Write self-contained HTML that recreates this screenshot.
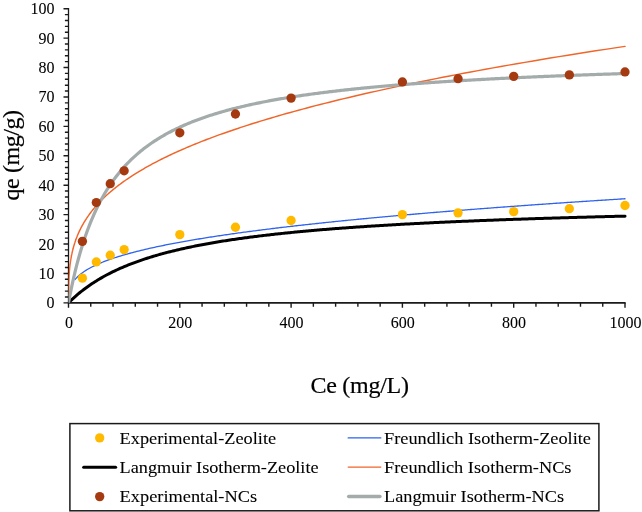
<!DOCTYPE html>
<html><head><meta charset="utf-8"><style>
html,body{margin:0;padding:0;background:#fff;width:642px;height:512px;overflow:hidden}
svg{display:block}
text{stroke:#000;stroke-width:0.2px}
.lg text,.tk text{stroke-width:0.08px}
</style></head><body>
<svg width="642" height="512" viewBox="0 0 642 512">
<rect width="642" height="512" fill="#fff"/>
<path d="M63.50,302.85H68.50M64.90,296.97H68.50M64.90,291.08H68.50M64.90,285.20H68.50M64.90,279.32H68.50M63.50,273.44H68.50M64.90,267.55H68.50M64.90,261.67H68.50M64.90,255.79H68.50M64.90,249.90H68.50M63.50,244.02H68.50M64.90,238.14H68.50M64.90,232.25H68.50M64.90,226.37H68.50M64.90,220.49H68.50M63.50,214.61H68.50M64.90,208.72H68.50M64.90,202.84H68.50M64.90,196.96H68.50M64.90,191.07H68.50M63.50,185.19H68.50M64.90,179.31H68.50M64.90,173.42H68.50M64.90,167.54H68.50M64.90,161.66H68.50M63.50,155.78H68.50M64.90,149.89H68.50M64.90,144.01H68.50M64.90,138.13H68.50M64.90,132.24H68.50M63.50,126.36H68.50M64.90,120.48H68.50M64.90,114.59H68.50M64.90,108.71H68.50M64.90,102.83H68.50M63.50,96.94H68.50M64.90,91.06H68.50M64.90,85.18H68.50M64.90,79.30H68.50M64.90,73.41H68.50M63.50,67.53H68.50M64.90,61.65H68.50M64.90,55.76H68.50M64.90,49.88H68.50M64.90,44.00H68.50M63.50,38.12H68.50M64.90,32.23H68.50M64.90,26.35H68.50M64.90,20.47H68.50M64.90,14.58H68.50M63.50,8.70H68.50M68.50,302.85V307.80M90.76,302.85V306.70M113.02,302.85V306.70M135.28,302.85V306.70M157.54,302.85V306.70M179.80,302.85V307.80M202.06,302.85V306.70M224.32,302.85V306.70M246.58,302.85V306.70M268.84,302.85V306.70M291.10,302.85V307.80M313.36,302.85V306.70M335.62,302.85V306.70M357.88,302.85V306.70M380.14,302.85V306.70M402.40,302.85V307.80M424.66,302.85V306.70M446.92,302.85V306.70M469.18,302.85V306.70M491.44,302.85V306.70M513.70,302.85V307.80M535.96,302.85V306.70M558.22,302.85V306.70M580.48,302.85V306.70M602.74,302.85V306.70M625.00,302.85V307.80" stroke="#1a1a1a" stroke-width="1.4" fill="none"/>
<path d="M68.50,8.10V302.85" stroke="#1a1a1a" stroke-width="1.3" fill="none"/>
<path d="M67.90,302.85H625.60" stroke="#1a1a1a" stroke-width="1.8" fill="none"/>
<g font-family="Liberation Serif" font-size="16" fill="#000" text-anchor="end" class="tk">
<text x="54.6" y="308.35">0</text>
<text x="54.6" y="278.94">10</text>
<text x="54.6" y="249.52">20</text>
<text x="54.6" y="220.11">30</text>
<text x="54.6" y="190.69">40</text>
<text x="54.6" y="161.28">50</text>
<text x="54.6" y="131.86">60</text>
<text x="54.6" y="102.44">70</text>
<text x="54.6" y="73.03">80</text>
<text x="54.6" y="43.62">90</text>
<text x="54.6" y="14.20">100</text>
</g>
<g font-family="Liberation Serif" font-size="16" fill="#000" text-anchor="middle" class="tk">
<text x="68.90" y="327.6">0</text>
<text x="180.20" y="327.6">200</text>
<text x="291.50" y="327.6">400</text>
<text x="402.80" y="327.6">600</text>
<text x="514.10" y="327.6">800</text>
<text x="625.40" y="327.6">1000</text>
</g>
<text x="310.5" y="393" font-family="Liberation Serif" font-size="24" letter-spacing="-0.28">Ce (mg/L)</text>
<text transform="translate(19.3,200.5) rotate(-90)" font-family="Liberation Serif" font-size="24" letter-spacing="-0.42">qe (mg/g)</text>
<clipPath id="pc"><rect x="68.50" y="0" width="600" height="302.85"/></clipPath><g clip-path="url(#pc)">
<path d="M74.90,279.66 L76.28,278.09 L77.65,276.70 L79.03,275.44 L80.40,274.28 L81.78,273.21 L83.15,272.22 L84.53,271.28 L85.90,270.39 L87.28,269.55 L88.65,268.75 L90.03,267.98 L91.40,267.25 L92.78,266.54 L94.15,265.87 L95.53,265.21 L96.90,264.58 L98.28,263.96 L99.65,263.37 L101.03,262.79 L102.40,262.23 L103.78,261.68 L105.16,261.15 L106.53,260.63 L107.91,260.12 L109.28,259.63 L110.66,259.14 L112.03,258.67 L113.41,258.20 L114.78,257.75 L116.16,257.30 L117.53,256.86 L118.91,256.43 L120.28,256.01 L121.66,255.60 L123.03,255.19 L124.41,254.79 L125.78,254.39 L127.16,254.01 L128.53,253.62 L129.91,253.25 L131.29,252.88 L132.66,252.51 L134.04,252.15 L135.41,251.80 L136.79,251.44 L138.16,251.10 L139.54,250.76 L140.91,250.42 L142.29,250.09 L143.66,249.76 L145.04,249.43 L146.41,249.11 L147.79,248.80 L149.16,248.48 L150.54,248.17 L151.91,247.87 L153.29,247.56 L154.66,247.26 L156.04,246.97 L157.41,246.67 L158.79,246.38 L160.17,246.09 L161.54,245.81 L162.92,245.53 L164.29,245.25 L165.67,244.97 L167.04,244.70 L168.42,244.42 L169.79,244.16 L171.17,243.89 L172.54,243.62 L173.92,243.36 L175.29,243.10 L176.67,242.84 L178.04,242.59 L179.42,242.34 L180.79,242.08 L182.17,241.84 L183.54,241.59 L184.92,241.34 L186.30,241.10 L187.67,240.86 L189.05,240.62 L190.42,240.38 L191.80,240.14 L193.17,239.91 L194.55,239.68 L195.92,239.45 L197.30,239.22 L198.67,238.99 L200.05,238.76 L201.42,238.54 L202.80,238.32 L204.17,238.09 L205.55,237.87 L206.92,237.66 L208.30,237.44 L209.67,237.22 L211.05,237.01 L212.42,236.80 L213.80,236.58 L215.18,236.37 L216.55,236.16 L217.93,235.96 L219.30,235.75 L220.68,235.55 L222.05,235.34 L223.43,235.14 L224.80,234.94 L226.18,234.74 L227.55,234.54 L228.93,234.34 L230.30,234.14 L231.68,233.95 L233.05,233.75 L234.43,233.56 L235.80,233.37 L237.18,233.17 L238.55,232.98 L239.93,232.79 L241.31,232.61 L242.68,232.42 L244.06,232.23 L245.43,232.05 L246.81,231.86 L248.18,231.68 L249.56,231.49 L250.93,231.31 L252.31,231.13 L253.68,230.95 L255.06,230.77 L256.43,230.59 L257.81,230.42 L259.18,230.24 L260.56,230.07 L261.93,229.89 L263.31,229.72 L264.68,229.54 L266.06,229.37 L267.43,229.20 L268.81,229.03 L270.19,228.86 L271.56,228.69 L272.94,228.52 L274.31,228.35 L275.69,228.19 L277.06,228.02 L278.44,227.85 L279.81,227.69 L281.19,227.52 L282.56,227.36 L283.94,227.20 L285.31,227.04 L286.69,226.87 L288.06,226.71 L289.44,226.55 L290.81,226.39 L292.19,226.24 L293.56,226.08 L294.94,225.92 L296.32,225.76 L297.69,225.61 L299.07,225.45 L300.44,225.30 L301.82,225.14 L303.19,224.99 L304.57,224.84 L305.94,224.68 L307.32,224.53 L308.69,224.38 L310.07,224.23 L311.44,224.08 L312.82,223.93 L314.19,223.78 L315.57,223.63 L316.94,223.48 L318.32,223.34 L319.69,223.19 L321.07,223.04 L322.44,222.90 L323.82,222.75 L325.20,222.61 L326.57,222.46 L327.95,222.32 L329.32,222.18 L330.70,222.03 L332.07,221.89 L333.45,221.75 L334.82,221.61 L336.20,221.47 L337.57,221.33 L338.95,221.19 L340.32,221.05 L341.70,220.91 L343.07,220.77 L344.45,220.63 L345.82,220.49 L347.20,220.36 L348.57,220.22 L349.95,220.08 L351.33,219.95 L352.70,219.81 L354.08,219.68 L355.45,219.54 L356.83,219.41 L358.20,219.27 L359.58,219.14 L360.95,219.01 L362.33,218.88 L363.70,218.74 L365.08,218.61 L366.45,218.48 L367.83,218.35 L369.20,218.22 L370.58,218.09 L371.95,217.96 L373.33,217.83 L374.70,217.70 L376.08,217.57 L377.45,217.45 L378.83,217.32 L380.21,217.19 L381.58,217.06 L382.96,216.94 L384.33,216.81 L385.71,216.69 L387.08,216.56 L388.46,216.44 L389.83,216.31 L391.21,216.19 L392.58,216.06 L393.96,215.94 L395.33,215.82 L396.71,215.69 L398.08,215.57 L399.46,215.45 L400.83,215.33 L402.21,215.20 L403.58,215.08 L404.96,214.96 L406.34,214.84 L407.71,214.72 L409.09,214.60 L410.46,214.48 L411.84,214.36 L413.21,214.24 L414.59,214.12 L415.96,214.01 L417.34,213.89 L418.71,213.77 L420.09,213.65 L421.46,213.54 L422.84,213.42 L424.21,213.30 L425.59,213.19 L426.96,213.07 L428.34,212.95 L429.71,212.84 L431.09,212.72 L432.46,212.61 L433.84,212.49 L435.22,212.38 L436.59,212.27 L437.97,212.15 L439.34,212.04 L440.72,211.93 L442.09,211.81 L443.47,211.70 L444.84,211.59 L446.22,211.48 L447.59,211.36 L448.97,211.25 L450.34,211.14 L451.72,211.03 L453.09,210.92 L454.47,210.81 L455.84,210.70 L457.22,210.59 L458.59,210.48 L459.97,210.37 L461.35,210.26 L462.72,210.15 L464.10,210.04 L465.47,209.94 L466.85,209.83 L468.22,209.72 L469.60,209.61 L470.97,209.50 L472.35,209.40 L473.72,209.29 L475.10,209.18 L476.47,209.08 L477.85,208.97 L479.22,208.86 L480.60,208.76 L481.97,208.65 L483.35,208.55 L484.72,208.44 L486.10,208.34 L487.47,208.23 L488.85,208.13 L490.23,208.03 L491.60,207.92 L492.98,207.82 L494.35,207.71 L495.73,207.61 L497.10,207.51 L498.48,207.41 L499.85,207.30 L501.23,207.20 L502.60,207.10 L503.98,207.00 L505.35,206.90 L506.73,206.79 L508.10,206.69 L509.48,206.59 L510.85,206.49 L512.23,206.39 L513.60,206.29 L514.98,206.19 L516.36,206.09 L517.73,205.99 L519.11,205.89 L520.48,205.79 L521.86,205.69 L523.23,205.59 L524.61,205.49 L525.98,205.39 L527.36,205.30 L528.73,205.20 L530.11,205.10 L531.48,205.00 L532.86,204.90 L534.23,204.81 L535.61,204.71 L536.98,204.61 L538.36,204.52 L539.73,204.42 L541.11,204.32 L542.48,204.23 L543.86,204.13 L545.24,204.03 L546.61,203.94 L547.99,203.84 L549.36,203.75 L550.74,203.65 L552.11,203.56 L553.49,203.46 L554.86,203.37 L556.24,203.27 L557.61,203.18 L558.99,203.08 L560.36,202.99 L561.74,202.90 L563.11,202.80 L564.49,202.71 L565.86,202.62 L567.24,202.52 L568.61,202.43 L569.99,202.34 L571.37,202.24 L572.74,202.15 L574.12,202.06 L575.49,201.97 L576.87,201.88 L578.24,201.78 L579.62,201.69 L580.99,201.60 L582.37,201.51 L583.74,201.42 L585.12,201.33 L586.49,201.24 L587.87,201.15 L589.24,201.06 L590.62,200.97 L591.99,200.88 L593.37,200.79 L594.74,200.70 L596.12,200.61 L597.49,200.52 L598.87,200.43 L600.25,200.34 L601.62,200.25 L603.00,200.16 L604.37,200.07 L605.75,199.98 L607.12,199.89 L608.50,199.81 L609.87,199.72 L611.25,199.63 L612.62,199.54 L614.00,199.45 L615.37,199.37 L616.75,199.28 L618.12,199.19 L619.50,199.10 L620.87,199.02 L622.25,198.93 L623.62,198.84 L625.00,198.76" stroke="#2e62ee" stroke-width="1.3" fill="none" stroke-linecap="round"/>
<path d="M68.50,302.85 L69.89,301.47 L71.28,300.13 L72.67,298.83 L74.06,297.55 L75.46,296.31 L76.85,295.11 L78.24,293.93 L79.63,292.78 L81.02,291.65 L82.41,290.56 L83.80,289.49 L85.19,288.45 L86.59,287.43 L87.98,286.43 L89.37,285.46 L90.76,284.50 L92.15,283.57 L93.54,282.66 L94.93,281.77 L96.33,280.90 L97.72,280.04 L99.11,279.21 L100.50,278.39 L101.89,277.59 L103.28,276.80 L104.67,276.03 L106.06,275.28 L107.45,274.54 L108.85,273.81 L110.24,273.10 L111.63,272.40 L113.02,271.72 L114.41,271.05 L115.80,270.39 L117.19,269.74 L118.59,269.11 L119.98,268.48 L121.37,267.87 L122.76,267.27 L124.15,266.68 L125.54,266.10 L126.93,265.53 L128.32,264.97 L129.72,264.42 L131.11,263.88 L132.50,263.34 L133.89,262.82 L135.28,262.30 L136.67,261.80 L138.06,261.30 L139.45,260.81 L140.84,260.32 L142.24,259.85 L143.63,259.38 L145.02,258.92 L146.41,258.47 L147.80,258.02 L149.19,257.58 L150.58,257.15 L151.97,256.72 L153.37,256.30 L154.76,255.89 L156.15,255.48 L157.54,255.08 L158.93,254.68 L160.32,254.29 L161.71,253.91 L163.11,253.53 L164.50,253.15 L165.89,252.78 L167.28,252.42 L168.67,252.06 L170.06,251.71 L171.45,251.36 L172.84,251.01 L174.24,250.67 L175.63,250.34 L177.02,250.01 L178.41,249.68 L179.80,249.36 L181.19,249.04 L182.58,248.73 L183.97,248.42 L185.37,248.11 L186.76,247.81 L188.15,247.51 L189.54,247.21 L190.93,246.92 L192.32,246.63 L193.71,246.35 L195.10,246.07 L196.50,245.79 L197.89,245.52 L199.28,245.25 L200.67,244.98 L202.06,244.72 L203.45,244.46 L204.84,244.20 L206.23,243.94 L207.62,243.69 L209.02,243.44 L210.41,243.20 L211.80,242.95 L213.19,242.71 L214.58,242.47 L215.97,242.24 L217.36,242.00 L218.75,241.77 L220.15,241.55 L221.54,241.32 L222.93,241.10 L224.32,240.88 L225.71,240.66 L227.10,240.44 L228.49,240.23 L229.88,240.02 L231.28,239.81 L232.67,239.60 L234.06,239.40 L235.45,239.20 L236.84,239.00 L238.23,238.80 L239.62,238.60 L241.01,238.41 L242.41,238.21 L243.80,238.02 L245.19,237.83 L246.58,237.65 L247.97,237.46 L249.36,237.28 L250.75,237.10 L252.15,236.92 L253.54,236.74 L254.93,236.56 L256.32,236.39 L257.71,236.22 L259.10,236.05 L260.49,235.88 L261.88,235.71 L263.27,235.54 L264.67,235.38 L266.06,235.21 L267.45,235.05 L268.84,234.89 L270.23,234.73 L271.62,234.58 L273.01,234.42 L274.40,234.27 L275.80,234.11 L277.19,233.96 L278.58,233.81 L279.97,233.66 L281.36,233.51 L282.75,233.37 L284.14,233.22 L285.53,233.08 L286.93,232.94 L288.32,232.79 L289.71,232.65 L291.10,232.51 L292.49,232.38 L293.88,232.24 L295.27,232.10 L296.66,231.97 L298.06,231.84 L299.45,231.71 L300.84,231.57 L302.23,231.44 L303.62,231.32 L305.01,231.19 L306.40,231.06 L307.79,230.94 L309.19,230.81 L310.58,230.69 L311.97,230.56 L313.36,230.44 L314.75,230.32 L316.14,230.20 L317.53,230.08 L318.93,229.96 L320.32,229.85 L321.71,229.73 L323.10,229.62 L324.49,229.50 L325.88,229.39 L327.27,229.28 L328.66,229.16 L330.06,229.05 L331.45,228.94 L332.84,228.84 L334.23,228.73 L335.62,228.62 L337.01,228.51 L338.40,228.41 L339.79,228.30 L341.19,228.20 L342.58,228.09 L343.97,227.99 L345.36,227.89 L346.75,227.79 L348.14,227.69 L349.53,227.59 L350.92,227.49 L352.31,227.39 L353.71,227.29 L355.10,227.20 L356.49,227.10 L357.88,227.00 L359.27,226.91 L360.66,226.81 L362.05,226.72 L363.44,226.63 L364.84,226.54 L366.23,226.44 L367.62,226.35 L369.01,226.26 L370.40,226.17 L371.79,226.08 L373.18,226.00 L374.57,225.91 L375.97,225.82 L377.36,225.73 L378.75,225.65 L380.14,225.56 L381.53,225.48 L382.92,225.39 L384.31,225.31 L385.70,225.23 L387.10,225.14 L388.49,225.06 L389.88,224.98 L391.27,224.90 L392.66,224.82 L394.05,224.74 L395.44,224.66 L396.83,224.58 L398.23,224.50 L399.62,224.42 L401.01,224.34 L402.40,224.27 L403.79,224.19 L405.18,224.11 L406.57,224.04 L407.96,223.96 L409.36,223.89 L410.75,223.82 L412.14,223.74 L413.53,223.67 L414.92,223.60 L416.31,223.52 L417.70,223.45 L419.10,223.38 L420.49,223.31 L421.88,223.24 L423.27,223.17 L424.66,223.10 L426.05,223.03 L427.44,222.96 L428.83,222.89 L430.23,222.82 L431.62,222.76 L433.01,222.69 L434.40,222.62 L435.79,222.56 L437.18,222.49 L438.57,222.42 L439.96,222.36 L441.36,222.29 L442.75,222.23 L444.14,222.16 L445.53,222.10 L446.92,222.04 L448.31,221.97 L449.70,221.91 L451.09,221.85 L452.49,221.79 L453.88,221.73 L455.27,221.66 L456.66,221.60 L458.05,221.54 L459.44,221.48 L460.83,221.42 L462.22,221.36 L463.62,221.30 L465.01,221.25 L466.40,221.19 L467.79,221.13 L469.18,221.07 L470.57,221.01 L471.96,220.96 L473.35,220.90 L474.75,220.84 L476.14,220.79 L477.53,220.73 L478.92,220.67 L480.31,220.62 L481.70,220.56 L483.09,220.51 L484.48,220.45 L485.88,220.40 L487.27,220.35 L488.66,220.29 L490.05,220.24 L491.44,220.19 L492.83,220.13 L494.22,220.08 L495.61,220.03 L497.00,219.98 L498.40,219.92 L499.79,219.87 L501.18,219.82 L502.57,219.77 L503.96,219.72 L505.35,219.67 L506.74,219.62 L508.13,219.57 L509.53,219.52 L510.92,219.47 L512.31,219.42 L513.70,219.37 L515.09,219.32 L516.48,219.28 L517.87,219.23 L519.26,219.18 L520.66,219.13 L522.05,219.08 L523.44,219.04 L524.83,218.99 L526.22,218.94 L527.61,218.90 L529.00,218.85 L530.39,218.81 L531.79,218.76 L533.18,218.71 L534.57,218.67 L535.96,218.62 L537.35,218.58 L538.74,218.53 L540.13,218.49 L541.52,218.45 L542.92,218.40 L544.31,218.36 L545.70,218.31 L547.09,218.27 L548.48,218.23 L549.87,218.18 L551.26,218.14 L552.65,218.10 L554.05,218.06 L555.44,218.01 L556.83,217.97 L558.22,217.93 L559.61,217.89 L561.00,217.85 L562.39,217.81 L563.79,217.77 L565.18,217.72 L566.57,217.68 L567.96,217.64 L569.35,217.60 L570.74,217.56 L572.13,217.52 L573.52,217.48 L574.91,217.44 L576.31,217.40 L577.70,217.37 L579.09,217.33 L580.48,217.29 L581.87,217.25 L583.26,217.21 L584.65,217.17 L586.04,217.13 L587.44,217.10 L588.83,217.06 L590.22,217.02 L591.61,216.98 L593.00,216.95 L594.39,216.91 L595.78,216.87 L597.17,216.84 L598.57,216.80 L599.96,216.76 L601.35,216.73 L602.74,216.69 L604.13,216.65 L605.52,216.62 L606.91,216.58 L608.30,216.55 L609.70,216.51 L611.09,216.48 L612.48,216.44 L613.87,216.41 L615.26,216.37 L616.65,216.34 L618.04,216.30 L619.43,216.27 L620.83,216.23 L622.22,216.20 L623.61,216.17 L625.00,216.13" stroke="#000" stroke-width="3" fill="none" stroke-linecap="round"/>
<path d="M68.51,295.15 L68.51,295.10 L68.51,295.06 L68.51,295.01 L68.51,294.97 L68.51,294.92 L68.51,294.87 L68.51,294.83 L68.51,294.78 L68.51,294.73 L68.51,294.68 L68.51,294.64 L68.51,294.59 L68.51,294.54 L68.51,294.49 L68.51,294.44 L68.51,294.39 L68.52,294.34 L68.52,294.29 L68.52,294.24 L68.52,294.19 L68.52,294.14 L68.52,294.09 L68.52,294.04 L68.52,293.99 L68.52,293.94 L68.52,293.88 L68.52,293.83 L68.52,293.78 L68.52,293.73 L68.52,293.67 L68.52,293.62 L68.52,293.56 L68.52,293.51 L68.52,293.46 L68.52,293.40 L68.52,293.35 L68.52,293.29 L68.52,293.23 L68.52,293.18 L68.52,293.12 L68.52,293.06 L68.52,293.01 L68.52,292.95 L68.52,292.89 L68.53,292.83 L68.53,292.77 L68.53,292.71 L68.53,292.66 L68.53,292.60 L68.53,292.54 L68.53,292.47 L68.53,292.41 L68.53,292.35 L68.53,292.29 L68.53,292.23 L68.53,292.17 L68.53,292.10 L68.53,292.04 L68.53,291.98 L68.53,291.91 L68.53,291.85 L68.53,291.79 L68.53,291.72 L68.54,291.66 L68.54,291.59 L68.54,291.52 L68.54,291.46 L68.54,291.39 L68.54,291.32 L68.54,291.26 L68.54,291.19 L68.54,291.12 L68.54,291.05 L68.54,290.98 L68.54,290.91 L68.54,290.84 L68.54,290.77 L68.55,290.70 L68.55,290.63 L68.55,290.56 L68.55,290.49 L68.55,290.41 L68.55,290.34 L68.55,290.27 L68.55,290.19 L68.55,290.12 L68.55,290.05 L68.55,289.97 L68.56,289.90 L68.56,289.82 L68.56,289.74 L68.56,289.67 L68.56,289.59 L68.56,289.51 L68.56,289.43 L68.56,289.35 L68.56,289.28 L68.57,289.20 L68.57,289.12 L68.57,289.04 L68.57,288.95 L68.57,288.87 L68.57,288.79 L68.57,288.71 L68.57,288.63 L68.58,288.54 L68.58,288.46 L68.58,288.37 L68.58,288.29 L68.58,288.20 L68.58,288.12 L68.58,288.03 L68.59,287.95 L68.59,287.86 L68.59,287.77 L68.59,287.68 L68.59,287.59 L68.59,287.50 L68.60,287.41 L68.60,287.32 L68.60,287.23 L68.60,287.14 L68.60,287.05 L68.60,286.96 L68.61,286.86 L68.61,286.77 L68.61,286.68 L68.61,286.58 L68.61,286.49 L68.62,286.39 L68.62,286.29 L68.62,286.20 L68.62,286.10 L68.62,286.00 L68.63,285.90 L68.63,285.80 L68.63,285.70 L68.63,285.60 L68.64,285.50 L68.64,285.40 L68.64,285.30 L68.64,285.19 L68.65,285.09 L68.65,284.99 L68.65,284.88 L68.65,284.78 L68.66,284.67 L68.66,284.56 L68.66,284.46 L68.67,284.35 L68.67,284.24 L68.67,284.13 L68.68,284.02 L68.68,283.91 L68.68,283.80 L68.69,283.69 L68.69,283.58 L68.69,283.46 L68.70,283.35 L68.70,283.24 L68.70,283.12 L68.71,283.00 L68.71,282.89 L68.71,282.77 L68.72,282.65 L68.72,282.54 L68.73,282.42 L68.73,282.30 L68.73,282.18 L68.74,282.06 L68.74,281.93 L68.75,281.81 L68.75,281.69 L68.76,281.56 L68.76,281.44 L68.77,281.31 L68.77,281.19 L68.78,281.06 L68.78,280.93 L68.79,280.80 L68.79,280.68 L68.80,280.55 L68.80,280.41 L68.81,280.28 L68.81,280.15 L68.82,280.02 L68.82,279.88 L68.83,279.75 L68.84,279.61 L68.84,279.48 L68.85,279.34 L68.85,279.20 L68.86,279.06 L68.87,278.93 L68.87,278.78 L68.88,278.64 L68.89,278.50 L68.90,278.36 L68.90,278.22 L68.91,278.07 L68.92,277.93 L68.93,277.78 L68.93,277.63 L68.94,277.49 L68.95,277.34 L68.96,277.19 L68.97,277.04 L68.97,276.89 L68.98,276.73 L68.99,276.58 L69.00,276.43 L69.01,276.27 L69.02,276.12 L69.03,275.96 L69.04,275.80 L69.05,275.64 L69.06,275.48 L69.07,275.32 L69.08,275.16 L69.09,275.00 L69.10,274.84 L69.11,274.67 L69.12,274.51 L69.13,274.34 L69.14,274.17 L69.16,274.01 L69.17,273.84 L69.18,273.67 L69.19,273.50 L69.20,273.32 L69.22,273.15 L69.23,272.98 L69.24,272.80 L69.26,272.63 L69.27,272.45 L69.28,272.27 L69.30,272.09 L69.31,271.91 L69.33,271.73 L69.34,271.55 L69.36,271.36 L69.37,271.18 L69.39,270.99 L69.41,270.81 L69.42,270.62 L69.44,270.43 L69.46,270.24 L69.47,270.05 L69.49,269.86 L69.51,269.66 L69.53,269.47 L69.55,269.27 L69.57,269.08 L69.59,268.88 L69.61,268.68 L69.63,268.48 L69.65,268.28 L69.67,268.08 L69.69,267.87 L69.71,267.67 L69.73,267.46 L69.75,267.25 L69.78,267.05 L69.80,266.84 L69.82,266.63 L69.85,266.41 L69.87,266.20 L69.90,265.98 L69.92,265.77 L69.95,265.55 L69.98,265.33 L70.00,265.11 L70.03,264.89 L70.06,264.67 L70.09,264.45 L70.11,264.22 L70.14,263.99 L70.17,263.77 L70.20,263.54 L70.24,263.31 L70.27,263.08 L70.30,262.84 L70.33,262.61 L70.36,262.37 L70.40,262.13 L70.43,261.90 L70.47,261.66 L70.50,261.41 L70.54,261.17 L70.58,260.93 L70.62,260.68 L70.65,260.44 L70.69,260.19 L70.73,259.94 L70.77,259.69 L70.82,259.43 L70.86,259.18 L70.90,258.92 L70.94,258.66 L70.99,258.41 L71.03,258.14 L71.08,257.88 L71.13,257.62 L71.17,257.35 L71.22,257.09 L71.27,256.82 L71.32,256.55 L71.37,256.28 L71.43,256.01 L71.48,255.73 L71.53,255.46 L71.59,255.18 L71.65,254.90 L71.70,254.62 L71.76,254.33 L71.82,254.05 L71.88,253.76 L71.94,253.48 L72.01,253.19 L72.07,252.90 L72.13,252.60 L72.20,252.31 L72.27,252.01 L72.34,251.72 L72.41,251.42 L72.48,251.11 L72.55,250.81 L72.62,250.51 L72.70,250.20 L72.77,249.89 L72.85,249.58 L72.93,249.27 L73.01,248.95 L73.09,248.64 L73.18,248.32 L73.26,248.00 L73.35,247.68 L73.44,247.36 L73.53,247.03 L73.62,246.70 L73.71,246.38 L73.81,246.04 L73.90,245.71 L74.00,245.38 L74.10,245.04 L74.20,244.70 L74.31,244.36 L74.41,244.02 L74.52,243.67 L74.63,243.33 L74.74,242.98 L74.86,242.63 L74.97,242.27 L75.09,241.92 L75.21,241.56 L75.33,241.20 L75.46,240.84 L75.58,240.48 L75.71,240.11 L75.84,239.74 L75.98,239.37 L76.11,239.00 L76.25,238.63 L76.39,238.25 L76.54,237.87 L76.68,237.49 L76.83,237.11 L76.98,236.73 L77.14,236.34 L77.29,235.95 L77.45,235.56 L77.62,235.16 L77.78,234.76 L77.95,234.37 L78.12,233.96 L78.30,233.56 L78.48,233.15 L78.66,232.75 L78.84,232.34 L79.03,231.92 L79.22,231.51 L79.42,231.09 L79.62,230.67 L79.82,230.25 L80.03,229.82 L80.24,229.39 L80.45,228.96 L80.67,228.53 L80.89,228.09 L81.11,227.66 L81.34,227.21 L81.58,226.77 L81.81,226.33 L82.06,225.88 L82.30,225.43 L82.55,224.97 L82.81,224.52 L83.07,224.06 L83.34,223.60 L83.61,223.13 L83.88,222.66 L84.16,222.19 L84.45,221.72 L84.74,221.25 L85.03,220.77 L85.33,220.29 L85.64,219.80 L85.95,219.32 L86.27,218.83 L86.59,218.33 L86.92,217.84 L87.26,217.34 L87.60,216.84 L87.94,216.34 L88.30,215.83 L88.66,215.32 L89.02,214.81 L89.40,214.29 L89.78,213.77 L90.17,213.25 L90.56,212.72 L90.96,212.20 L91.37,211.66 L91.79,211.13 L92.21,210.59 L92.64,210.05 L93.08,209.51 L93.53,208.96 L93.98,208.41 L94.45,207.86 L94.92,207.30 L95.40,206.74 L95.89,206.18 L96.39,205.61 L96.90,205.04 L97.41,204.47 L97.94,203.89 L98.47,203.31 L99.02,202.73 L99.57,202.14 L100.14,201.55 L100.72,200.96 L101.30,200.36 L101.90,199.76 L102.51,199.16 L103.13,198.55 L103.76,197.94 L104.40,197.32 L105.05,196.71 L105.72,196.08 L106.39,195.46 L107.08,194.83 L107.78,194.20 L108.50,193.56 L109.23,192.92 L109.97,192.27 L110.72,191.63 L111.49,190.97 L112.27,190.32 L113.07,189.66 L113.88,189.00 L114.71,188.33 L115.55,187.66 L116.40,186.98 L117.27,186.30 L118.16,185.62 L119.07,184.93 L119.99,184.24 L120.92,183.55 L121.88,182.85 L122.85,182.15 L123.84,181.44 L124.84,180.73 L125.87,180.01 L126.91,179.29 L127.98,178.57 L129.06,177.84 L130.16,177.11 L131.28,176.37 L132.43,175.63 L133.59,174.88 L134.77,174.13 L135.98,173.38 L137.21,172.62 L138.46,171.86 L139.73,171.09 L141.03,170.32 L142.35,169.54 L143.69,168.76 L145.06,167.97 L146.45,167.18 L147.87,166.39 L149.31,165.59 L150.78,164.79 L152.28,163.98 L153.81,163.16 L155.36,162.34 L156.94,161.52 L158.55,160.69 L160.19,159.86 L161.85,159.02 L163.55,158.18 L165.28,157.33 L167.04,156.48 L168.84,155.62 L170.66,154.76 L172.52,153.89 L174.41,153.02 L176.34,152.14 L178.30,151.26 L180.30,150.37 L182.34,149.47 L184.41,148.58 L186.52,147.67 L188.66,146.76 L190.85,145.85 L193.08,144.93 L195.34,144.00 L197.65,143.07 L200.00,142.14 L202.40,141.19 L204.83,140.25 L207.31,139.29 L209.84,138.33 L212.41,137.37 L215.03,136.40 L217.70,135.43 L220.41,134.44 L223.18,133.46 L225.99,132.47 L228.86,131.47 L231.77,130.46 L234.74,129.45 L237.77,128.44 L240.85,127.41 L243.99,126.39 L247.18,125.35 L250.43,124.31 L253.74,123.27 L257.11,122.21 L260.54,121.16 L264.04,120.09 L267.60,119.02 L271.22,117.94 L274.91,116.86 L278.66,115.77 L282.49,114.67 L286.38,113.57 L290.35,112.46 L294.38,111.35 L298.49,110.22 L302.68,109.09 L306.94,107.96 L311.28,106.82 L315.70,105.67 L320.19,104.51 L324.77,103.35 L329.44,102.18 L334.19,101.01 L339.02,99.82 L343.94,98.63 L348.96,97.44 L354.06,96.23 L359.25,95.02 L364.55,93.80 L369.93,92.58 L375.42,91.35 L381.00,90.11 L386.69,88.86 L392.48,87.61 L398.37,86.35 L404.38,85.08 L410.49,83.80 L416.71,82.52 L423.05,81.23 L429.50,79.93 L436.07,78.62 L442.76,77.31 L449.57,75.99 L456.50,74.66 L463.56,73.32 L470.75,71.97 L478.07,70.62 L485.52,69.26 L493.11,67.89 L500.84,66.52 L508.70,65.13 L516.71,63.74 L524.87,62.34 L533.17,60.93 L541.63,59.51 L550.24,58.08 L559.01,56.65 L567.93,55.21 L577.02,53.76 L586.27,52.30 L595.69,50.83 L605.29,49.35 L615.05,47.87 L625.00,46.37" stroke="#f0652a" stroke-width="1.45" fill="none" stroke-linecap="round"/>
<path d="M68.50,302.85 L69.89,295.56 L71.28,288.69 L72.67,282.19 L74.06,276.05 L75.46,270.23 L76.85,264.71 L78.24,259.47 L79.63,254.48 L81.02,249.72 L82.41,245.19 L83.80,240.87 L85.19,236.73 L86.59,232.78 L87.98,228.99 L89.37,225.36 L90.76,221.88 L92.15,218.54 L93.54,215.33 L94.93,212.24 L96.33,209.27 L97.72,206.41 L99.11,203.65 L100.50,200.99 L101.89,198.42 L103.28,195.95 L104.67,193.55 L106.06,191.24 L107.45,189.00 L108.85,186.84 L110.24,184.74 L111.63,182.71 L113.02,180.74 L114.41,178.83 L115.80,176.97 L117.19,175.18 L118.59,173.43 L119.98,171.73 L121.37,170.09 L122.76,168.48 L124.15,166.92 L125.54,165.41 L126.93,163.93 L128.32,162.49 L129.72,161.09 L131.11,159.73 L132.50,158.40 L133.89,157.10 L135.28,155.84 L136.67,154.60 L138.06,153.40 L139.45,152.22 L140.84,151.08 L142.24,149.95 L143.63,148.86 L145.02,147.79 L146.41,146.74 L147.80,145.72 L149.19,144.72 L150.58,143.74 L151.97,142.78 L153.37,141.84 L154.76,140.92 L156.15,140.03 L157.54,139.15 L158.93,138.28 L160.32,137.44 L161.71,136.61 L163.11,135.80 L164.50,135.00 L165.89,134.22 L167.28,133.46 L168.67,132.71 L170.06,131.97 L171.45,131.25 L172.84,130.54 L174.24,129.84 L175.63,129.16 L177.02,128.49 L178.41,127.83 L179.80,127.18 L181.19,126.54 L182.58,125.92 L183.97,125.30 L185.37,124.70 L186.76,124.10 L188.15,123.52 L189.54,122.95 L190.93,122.38 L192.32,121.83 L193.71,121.28 L195.10,120.74 L196.50,120.21 L197.89,119.69 L199.28,119.18 L200.67,118.68 L202.06,118.18 L203.45,117.69 L204.84,117.21 L206.23,116.73 L207.62,116.27 L209.02,115.81 L210.41,115.35 L211.80,114.91 L213.19,114.47 L214.58,114.03 L215.97,113.61 L217.36,113.18 L218.75,112.77 L220.15,112.36 L221.54,111.96 L222.93,111.56 L224.32,111.17 L225.71,110.78 L227.10,110.40 L228.49,110.02 L229.88,109.65 L231.28,109.28 L232.67,108.92 L234.06,108.56 L235.45,108.21 L236.84,107.86 L238.23,107.52 L239.62,107.18 L241.01,106.84 L242.41,106.51 L243.80,106.19 L245.19,105.86 L246.58,105.54 L247.97,105.23 L249.36,104.92 L250.75,104.61 L252.15,104.31 L253.54,104.01 L254.93,103.71 L256.32,103.42 L257.71,103.13 L259.10,102.85 L260.49,102.57 L261.88,102.29 L263.27,102.01 L264.67,101.74 L266.06,101.47 L267.45,101.20 L268.84,100.94 L270.23,100.68 L271.62,100.42 L273.01,100.17 L274.40,99.92 L275.80,99.67 L277.19,99.42 L278.58,99.18 L279.97,98.94 L281.36,98.70 L282.75,98.46 L284.14,98.23 L285.53,98.00 L286.93,97.77 L288.32,97.54 L289.71,97.32 L291.10,97.10 L292.49,96.88 L293.88,96.66 L295.27,96.45 L296.66,96.24 L298.06,96.02 L299.45,95.82 L300.84,95.61 L302.23,95.41 L303.62,95.20 L305.01,95.00 L306.40,94.81 L307.79,94.61 L309.19,94.42 L310.58,94.22 L311.97,94.03 L313.36,93.84 L314.75,93.66 L316.14,93.47 L317.53,93.29 L318.93,93.11 L320.32,92.93 L321.71,92.75 L323.10,92.57 L324.49,92.40 L325.88,92.22 L327.27,92.05 L328.66,91.88 L330.06,91.71 L331.45,91.55 L332.84,91.38 L334.23,91.22 L335.62,91.05 L337.01,90.89 L338.40,90.73 L339.79,90.57 L341.19,90.42 L342.58,90.26 L343.97,90.11 L345.36,89.95 L346.75,89.80 L348.14,89.65 L349.53,89.50 L350.92,89.35 L352.31,89.21 L353.71,89.06 L355.10,88.92 L356.49,88.78 L357.88,88.63 L359.27,88.49 L360.66,88.35 L362.05,88.21 L363.44,88.08 L364.84,87.94 L366.23,87.81 L367.62,87.67 L369.01,87.54 L370.40,87.41 L371.79,87.28 L373.18,87.15 L374.57,87.02 L375.97,86.89 L377.36,86.76 L378.75,86.64 L380.14,86.51 L381.53,86.39 L382.92,86.27 L384.31,86.15 L385.70,86.02 L387.10,85.91 L388.49,85.79 L389.88,85.67 L391.27,85.55 L392.66,85.43 L394.05,85.32 L395.44,85.20 L396.83,85.09 L398.23,84.98 L399.62,84.87 L401.01,84.75 L402.40,84.64 L403.79,84.53 L405.18,84.42 L406.57,84.32 L407.96,84.21 L409.36,84.10 L410.75,84.00 L412.14,83.89 L413.53,83.79 L414.92,83.68 L416.31,83.58 L417.70,83.48 L419.10,83.38 L420.49,83.28 L421.88,83.18 L423.27,83.08 L424.66,82.98 L426.05,82.88 L427.44,82.78 L428.83,82.69 L430.23,82.59 L431.62,82.50 L433.01,82.40 L434.40,82.31 L435.79,82.22 L437.18,82.12 L438.57,82.03 L439.96,81.94 L441.36,81.85 L442.75,81.76 L444.14,81.67 L445.53,81.58 L446.92,81.49 L448.31,81.40 L449.70,81.32 L451.09,81.23 L452.49,81.14 L453.88,81.06 L455.27,80.97 L456.66,80.89 L458.05,80.80 L459.44,80.72 L460.83,80.64 L462.22,80.55 L463.62,80.47 L465.01,80.39 L466.40,80.31 L467.79,80.23 L469.18,80.15 L470.57,80.07 L471.96,79.99 L473.35,79.91 L474.75,79.84 L476.14,79.76 L477.53,79.68 L478.92,79.60 L480.31,79.53 L481.70,79.45 L483.09,79.38 L484.48,79.30 L485.88,79.23 L487.27,79.16 L488.66,79.08 L490.05,79.01 L491.44,78.94 L492.83,78.86 L494.22,78.79 L495.61,78.72 L497.00,78.65 L498.40,78.58 L499.79,78.51 L501.18,78.44 L502.57,78.37 L503.96,78.30 L505.35,78.23 L506.74,78.17 L508.13,78.10 L509.53,78.03 L510.92,77.97 L512.31,77.90 L513.70,77.83 L515.09,77.77 L516.48,77.70 L517.87,77.64 L519.26,77.57 L520.66,77.51 L522.05,77.44 L523.44,77.38 L524.83,77.32 L526.22,77.26 L527.61,77.19 L529.00,77.13 L530.39,77.07 L531.79,77.01 L533.18,76.95 L534.57,76.89 L535.96,76.83 L537.35,76.77 L538.74,76.71 L540.13,76.65 L541.52,76.59 L542.92,76.53 L544.31,76.47 L545.70,76.41 L547.09,76.35 L548.48,76.30 L549.87,76.24 L551.26,76.18 L552.65,76.12 L554.05,76.07 L555.44,76.01 L556.83,75.96 L558.22,75.90 L559.61,75.85 L561.00,75.79 L562.39,75.74 L563.79,75.68 L565.18,75.63 L566.57,75.57 L567.96,75.52 L569.35,75.47 L570.74,75.41 L572.13,75.36 L573.52,75.31 L574.91,75.26 L576.31,75.21 L577.70,75.15 L579.09,75.10 L580.48,75.05 L581.87,75.00 L583.26,74.95 L584.65,74.90 L586.04,74.85 L587.44,74.80 L588.83,74.75 L590.22,74.70 L591.61,74.65 L593.00,74.60 L594.39,74.55 L595.78,74.50 L597.17,74.46 L598.57,74.41 L599.96,74.36 L601.35,74.31 L602.74,74.27 L604.13,74.22 L605.52,74.17 L606.91,74.13 L608.30,74.08 L609.70,74.03 L611.09,73.99 L612.48,73.94 L613.87,73.90 L615.26,73.85 L616.65,73.81 L618.04,73.76 L619.43,73.72 L620.83,73.67 L622.22,73.63 L623.61,73.58 L625.00,73.54" stroke="#a3abab" stroke-width="3.2" fill="none" stroke-linecap="round"/>
</g>
<circle cx="82.41" cy="278.14" r="4.65" fill="#ffba00"/>
<circle cx="96.33" cy="261.96" r="4.65" fill="#ffba00"/>
<circle cx="110.24" cy="255.20" r="4.65" fill="#ffba00"/>
<circle cx="124.15" cy="249.61" r="4.65" fill="#ffba00"/>
<circle cx="179.80" cy="234.61" r="4.65" fill="#ffba00"/>
<circle cx="235.45" cy="227.25" r="4.65" fill="#ffba00"/>
<circle cx="291.10" cy="220.49" r="4.65" fill="#ffba00"/>
<circle cx="402.40" cy="214.61" r="4.65" fill="#ffba00"/>
<circle cx="458.05" cy="212.84" r="4.65" fill="#ffba00"/>
<circle cx="513.70" cy="211.66" r="4.65" fill="#ffba00"/>
<circle cx="569.35" cy="208.72" r="4.65" fill="#ffba00"/>
<circle cx="625.00" cy="205.49" r="4.65" fill="#ffba00"/>
<circle cx="82.41" cy="241.37" r="4.65" fill="#a5390f"/>
<circle cx="96.33" cy="202.54" r="4.65" fill="#a5390f"/>
<circle cx="110.24" cy="183.72" r="4.65" fill="#a5390f"/>
<circle cx="124.15" cy="170.78" r="4.65" fill="#a5390f"/>
<circle cx="179.80" cy="132.83" r="4.65" fill="#a5390f"/>
<circle cx="235.45" cy="114.01" r="4.65" fill="#a5390f"/>
<circle cx="291.10" cy="98.12" r="4.65" fill="#a5390f"/>
<circle cx="402.40" cy="81.94" r="4.65" fill="#a5390f"/>
<circle cx="458.05" cy="78.71" r="4.65" fill="#a5390f"/>
<circle cx="513.70" cy="76.35" r="4.65" fill="#a5390f"/>
<circle cx="569.35" cy="74.88" r="4.65" fill="#a5390f"/>
<circle cx="625.00" cy="71.94" r="4.65" fill="#a5390f"/>
<rect x="69.9" y="423.6" width="529" height="87.2" fill="none" stroke="#1a1a1a" stroke-width="1.5"/>
<circle cx="99.7" cy="437.9" r="4.65" fill="#ffba00"/>
<path d="M83.7,467.3H115.6" stroke="#000" stroke-width="3.1" stroke-linecap="round"/>
<circle cx="99.7" cy="496.6" r="4.65" fill="#a5390f"/>
<path d="M348.2,437.9H380.8" stroke="#2e62ee" stroke-width="1.3" stroke-linecap="round"/>
<path d="M348.2,467.1H380.8" stroke="#f0652a" stroke-width="1.3" stroke-linecap="round"/>
<path d="M348.7,496.6H379.9" stroke="#a3abab" stroke-width="3.5" stroke-linecap="round"/>
<g font-family="Liberation Serif" font-size="17" fill="#000" class="lg">
<text x="119.60" y="444.00" textLength="156.50" lengthAdjust="spacingAndGlyphs">Experimental-Zeolite</text>
<text x="119.60" y="473.00" textLength="199.00" lengthAdjust="spacingAndGlyphs">Langmuir Isotherm-Zeolite</text>
<text x="119.60" y="502.00" textLength="137.50" lengthAdjust="spacingAndGlyphs">Experimental-NCs</text>
<text x="384.00" y="444.00" textLength="207.00" lengthAdjust="spacingAndGlyphs">Freundlich Isotherm-Zeolite</text>
<text x="384.00" y="473.00" textLength="187.50" lengthAdjust="spacingAndGlyphs">Freundlich Isotherm-NCs</text>
<text x="384.00" y="502.00" textLength="180.00" lengthAdjust="spacingAndGlyphs">Langmuir Isotherm-NCs</text>
</g>
</svg>
</body></html>
